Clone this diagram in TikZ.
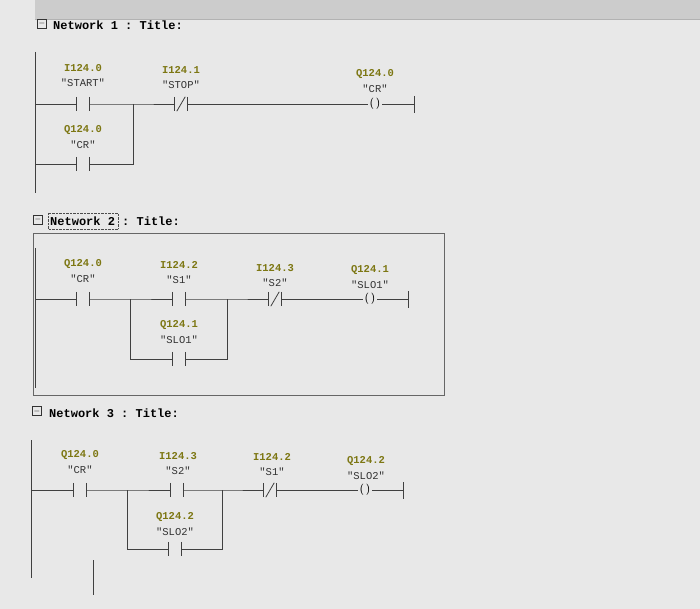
\documentclass[tikz,border=0pt]{standalone}
\usepackage{fontspec}
\setmonofont{Liberation Mono}
\begin{document}
\begin{tikzpicture}[x=1pt,y=-1pt,
  wire/.style={draw=black!75,line width=0.9pt},
  lbl/.style={font=\ttfamily\bfseries\fontsize{10.5}{12}\selectfont,text=olive!85!black,inner sep=0},
  sym/.style={font=\ttfamily\fontsize{10.5}{12}\selectfont,text=black!80,inner sep=0},
  hdr/.style={font=\ttfamily\bfseries\fontsize{12}{13}\selectfont,anchor=west,inner sep=0},
  box/.style={draw=black!80,minimum size=9pt,inner sep=0,font=\bfseries\fontsize{8}{8}\selectfont},
  ct/.style={minimum width=12pt,minimum height=14pt,inner sep=0},
  coil/.style={minimum width=14pt,minimum height=12pt,inner sep=0,font=\sffamily\fontsize{11}{11}\selectfont},
  plate/.style={draw=black!75,line width=1pt}]
\useasboundingbox (0,0) rectangle (700,609);
\fill[gray!18] (0,0) rectangle (700,609);
\fill[gray!40] (35,0) rectangle (700,20);
\draw[gray!60,line width=1pt] (35,20) -- (700,20);
\newcommand{\mkct}[4]{\node[ct] (#1) at (#2,#3) {};
  \draw[plate] (#1.north west) -- (#1.south west) (#1.north east) -- (#1.south east);
  \ifx#4n\draw[black!75,line width=0.8pt] ([xshift=2pt]#1.south west) -- ([xshift=-2pt]#1.north east);\fi}
\newcommand{\mklab}[5]{\node[lbl] (#1a) at (#2,#3) {#4}; \node[sym] (#1b) at (#2,#3+15) {"#5"};}
\newcommand{\mkcoil}[3]{\node[coil] (#1) at (#2,#3) {(\,)};}
% ---------- Network 1
\node[box] (h1b) at (42,24) {$-$};
\node[hdr] (h1) at (53,25) {Network 1 : Title:};
\draw[wire] (35,52) -- (35,193);
\mkct{start}{83}{104}{o}\mklab{start}{83}{68}{I124.0}{START}
\mkct{cr1}{83}{164}{o}\mklab{cr1}{83}{130}{Q124.0}{CR}
\mkct{stop}{181}{104}{n}\mklab{stop}{181}{70}{I124.1}{STOP}
\mkcoil{coil1}{375}{104}\mklab{coil1}{375}{74}{Q124.0}{CR}
\coordinate (j1) at (133,104); \coordinate (j1b) at (133,164);
\draw[wire] (35,104) -- (start.west) (start.east) -- (j1) -- (stop.west);
\draw[wire] (35,164) -- (cr1.west) (cr1.east) -- (j1b) -- (j1);
\draw[wire] (stop.east) -- (coil1.west) (coil1.east) -- (414,104);
\draw[plate] (414,96) -- (414,113);
% ---------- Network 2
\node[box] (h2b) at (38,220) {$-$};
\node[hdr] (h2) at (50,221) {Network 2 : Title:};
\draw[densely dotted,black!70] (48,213) rectangle (118,229);
\draw[black!60,line width=0.8pt] (33,233) rectangle (444,395);
\draw[wire] (35,248) -- (35,388);
\mkct{cr2}{83}{299}{o}\mklab{cr2}{83}{264}{Q124.0}{CR}
\mkct{s1}{179}{299}{o}\mklab{s1}{179}{265}{I124.2}{S1}
\mkct{slo1}{179}{359}{o}\mklab{slo1}{179}{325}{Q124.1}{SLO1}
\mkct{s2}{275}{299}{n}\mklab{s2}{275}{268}{I124.3}{S2}
\mkcoil{coil2}{370}{299}\mklab{coil2}{370}{270}{Q124.1}{SLO1}
\coordinate (a2) at (130,299); \coordinate (a2b) at (130,359);
\coordinate (b2) at (227,299); \coordinate (b2b) at (227,359);
\draw[wire] (35,299) -- (cr2.west) (cr2.east) -- (a2) -- (s1.west) (s1.east) -- (b2) -- (s2.west);
\draw[wire] (a2) -- (a2b) -- (slo1.west) (slo1.east) -- (b2b) -- (b2);
\draw[wire] (s2.east) -- (coil2.west) (coil2.east) -- (408,299);
\draw[plate] (408,291) -- (408,308);
% ---------- Network 3
\node[box] (h3b) at (37,411) {$-$};
\node[hdr] (h3) at (49,413) {Network 3 : Title:};
\draw[wire] (31,440) -- (31,578);
\mkct{cr3}{80}{490}{o}\mklab{cr3}{80}{455}{Q124.0}{CR}
\mkct{s23}{177}{490}{o}\mklab{s23}{178}{456}{I124.3}{S2}
\mkct{slo2}{175}{549}{o}\mklab{slo2}{175}{517}{Q124.2}{SLO2}
\mkct{s13}{270}{490}{n}\mklab{s13}{272}{457}{I124.2}{S1}
\mkcoil{coil3}{365}{490}\mklab{coil3}{366}{461}{Q124.2}{SLO2}
\coordinate (a3) at (127,490); \coordinate (a3b) at (127,549);
\coordinate (b3) at (222,490); \coordinate (b3b) at (222,549);
\draw[wire] (31,490) -- (cr3.west) (cr3.east) -- (a3) -- (s23.west) (s23.east) -- (b3) -- (s13.west);
\draw[wire] (a3) -- (a3b) -- (slo2.west) (slo2.east) -- (b3b) -- (b3);
\draw[wire] (s13.east) -- (coil3.west) (coil3.east) -- (403,490);
\draw[plate] (403,482) -- (403,499);
\draw[wire] (93,560) -- (93,595);
\end{tikzpicture}
\end{document}
